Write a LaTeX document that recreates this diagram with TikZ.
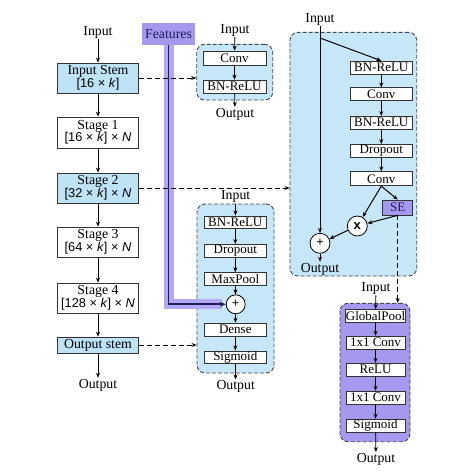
\documentclass[tikz,border=0pt]{standalone}
\usepackage{fontspec}
\setmainfont{Liberation Serif}
\newfontfamily\sansf{Liberation Sans}
\usetikzlibrary{arrows.meta,calc}
\definecolor{lblue}{HTML}{BDE3F5}
\definecolor{dblue}{HTML}{C6E7F8}
\definecolor{purp}{HTML}{A598EF}
\definecolor{bandc}{HTML}{B3A8F3}
\definecolor{navy}{HTML}{1E1E5A}
\definecolor{dashc}{HTML}{3F4A55}
\newcommand{\sz}{\sansf\fontsize{12.8}{13.5}\selectfont}
\newcommand{\bz}{\fontsize{13.8}{14.5}\selectfont}
\begin{document}
\begin{tikzpicture}[x=1pt,y=-1pt,
 font=\fontsize{13}{14}\selectfont,
 >={Stealth[length=5pt,width=4pt]},
 arr/.style={->,line width=0.8pt},
 mainbox/.style={draw=black!80,line width=0.8pt,minimum width=81pt,align=center,inner sep=0.5pt},
 smallbox/.style={draw=black!80,line width=0.7pt,fill=white,minimum width=62.7pt,minimum height=12.8pt,inner sep=0.3pt},
 blk/.style={draw=dashc,dash pattern=on 4pt off 2pt,line width=0.9pt,rounded corners=8pt,fill=dblue,inner sep=0pt},
 lbl/.style={inner sep=1pt,font=\bz},
 circ/.style={circle,draw=black,line width=0.8pt,fill=white,minimum size=19pt,inner sep=0pt},
 dconn/.style={->,dash pattern=on 5pt off 3pt,line width=0.9pt}
]
\useasboundingbox (0,0) rectangle (474,474);

% ---- dashed blocks ----
\node[blk,minimum width=76pt,minimum height=55.7pt] (blk1) at (234.7,72.15) {};
\node[blk,minimum width=77pt,minimum height=169pt] (blk2) at (235.5,288.5) {};
\node[blk,minimum width=126.7pt,minimum height=243.7pt] (blk3) at (353.35,154.15) {};
\node[blk,fill=purp,minimum width=70pt,minimum height=138.4pt] (blk4) at (375,372.5) {};

% ---- main column ----
\node[lbl] (in0) at (98,32) {Input};
\node[mainbox,fill=lblue,minimum height=30pt] (instem) at (98,78) {\bz Input Stem\\[-1.5pt]{\sz[16 × \textit{k}]}};
\node[mainbox,fill=white,minimum height=31pt] (st1) at (98,132.5) {\bz Stage 1\\[-1.5pt]{\sz[16 × \textit{k}] × \textit{N}}};
\node[mainbox,fill=lblue,minimum height=30pt] (st2) at (98,188) {\bz Stage 2\\[-1.5pt]{\sz[32 × \textit{k}] × \textit{N}}};
\node[mainbox,fill=white,minimum height=30pt] (st3) at (98,242) {\bz Stage 3\\[-1.5pt]{\sz[64 × \textit{k}] × \textit{N}}};
\node[mainbox,fill=white,minimum height=30pt] (st4) at (98,298) {\bz Stage 4\\[-1.5pt]{\sz[128 × \textit{k}] × \textit{N}}};
\node[mainbox,fill=lblue,minimum height=16pt,font=\bz] (outstem) at (98,345) {Output stem};
\node[lbl] (out0) at (98,385) {Output};
\draw[arr] (in0) -- (instem);
\draw[arr] (instem) -- (st1);
\draw[arr] (st1) -- (st2);
\draw[arr] (st2) -- (st3);
\draw[arr] (st3) -- (st4);
\draw[arr] (st4) -- (outstem);
\draw[arr] (outstem) -- (out0);

% ---- top middle block ----
\node[lbl] (in1) at (235,30) {Input};
\node[smallbox,minimum height=14pt] (conv1) at (234.5,58) {Conv};
\node[smallbox,minimum height=13pt] (bnr1) at (234.5,86.5) {BN-ReLU};
\node[lbl] (out1) at (235,114) {Output};
\draw[arr] (in1) -- (conv1);
\draw[arr] (conv1) -- (bnr1);
\draw[arr] (bnr1) -- (out1);

% ---- middle head block ----
\node[lbl] (in2) at (235.7,196.7) {Input};
\node[smallbox] (bnr2) at (235.3,222.3) {BN-ReLU};
\node[smallbox] (drop2) at (235.3,250.8) {Dropout};
\node[smallbox] (mp2) at (235.3,279) {MaxPool};
\node[circ] (plusm) at (235.7,304.3) {\textbf{+}};
\node[smallbox] (dense2) at (235.3,329.5) {Dense};
\node[smallbox] (sig2) at (235.3,357.3) {Sigmoid};
\node[lbl] (out2) at (235.7,386.7) {Output};
\draw[arr] (in2) -- (bnr2);
\draw[arr] (bnr2) -- (drop2);
\draw[arr] (drop2) -- (mp2);
\draw[arr] (mp2) -- (plusm);
\draw[arr] (plusm) -- (dense2);
\draw[arr] (dense2) -- (sig2);
\draw[arr] (sig2) -- (out2);

% ---- residual block ----
\node[lbl] (in3) at (320,19) {Input};
\coordinate (br) at (320,38);
\node[smallbox] (rb1) at (381.3,67.5) {BN-ReLU};
\node[smallbox] (rc1) at (381.3,94.2) {Conv};
\node[smallbox] (rb2) at (381.3,122.8) {BN-ReLU};
\node[smallbox] (rd) at (381.3,150.8) {Dropout};
\node[smallbox,minimum height=14pt] (rc2) at (381.3,178.8) {Conv};
\node[draw=black!80,line width=0.7pt,fill=purp,minimum width=30pt,minimum height=15pt,inner sep=0.5pt,text=navy] (se) at (397.7,207.5) {SE};
\node[circ,minimum size=20pt] (xc) at (357.3,226) {\textbf{\sansf x}};
\node[circ,minimum size=20pt] (plusr) at (320,243.3) {\textbf{+}};
\node[lbl] (out3) at (320,269) {Output};
\draw[line width=0.8pt] (in3.south) -- (br);
\draw[arr] (br) -- (plusr);
\draw[arr,line width=1pt] (br) -- (rb1.north);
\draw[arr] (rb1) -- (rc1);
\draw[arr] (rc1) -- (rb2);
\draw[arr] (rb2) -- (rd);
\draw[arr] (rd) -- (rc2);
\draw[arr,line width=1pt] (rc2.south) -- (xc);
\draw[arr,line width=1pt] (rc2.south) -- (se.north);
\draw[arr,line width=1pt] (se.south) -- (xc);
\draw[arr,line width=1pt] (xc) -- (plusr);
\draw[arr] (plusr) -- (out3);

% ---- SE detail block ----
\node[lbl] (in4) at (376,288.3) {Input};
\node[smallbox,minimum width=59pt] (gp) at (375.5,315.8) {GlobalPool};
\node[smallbox,minimum width=59pt] (c11a) at (375.5,342.5) {1x1 Conv};
\node[smallbox,minimum width=59pt] (relu) at (375.5,369.7) {ReLU};
\node[smallbox,minimum width=59pt] (c11b) at (375.5,397.5) {1x1 Conv};
\node[smallbox,minimum width=59pt] (sig4) at (375.5,425.5) {Sigmoid};
\node[lbl] (out4) at (376,459.3) {Output};
\draw[arr] (in4) -- (gp);
\draw[arr] (gp) -- (c11a);
\draw[arr] (c11a) -- (relu);
\draw[arr] (relu) -- (c11b);
\draw[arr] (c11b) -- (sig4);
\draw[arr] (sig4) -- (out4);

% ---- features path ----
\node[fill=purp,minimum width=53pt,minimum height=22pt,inner sep=0.5pt,text=navy,font=\bz] (feat) at (168.5,34) {Features};
\draw[bandc,line width=10pt] (feat.south) |- ($(plusm.west)+(-4,0)$);

% ---- dashed connectors ----
\draw[dconn] (instem.east) -- (instem.east -| blk1.west);
\draw[dconn] (st2.east) -- (st2.east -| blk3.west);
\draw[dconn] (outstem.east) -- (outstem.east -| blk2.west);
\draw[dconn] (se.south) -- (se.south |- blk4.north);

\draw[navy,line width=1.8pt,-{Stealth[length=6pt,width=5pt]}] (feat.south) |- (plusm.west);
\end{tikzpicture}
\end{document}
